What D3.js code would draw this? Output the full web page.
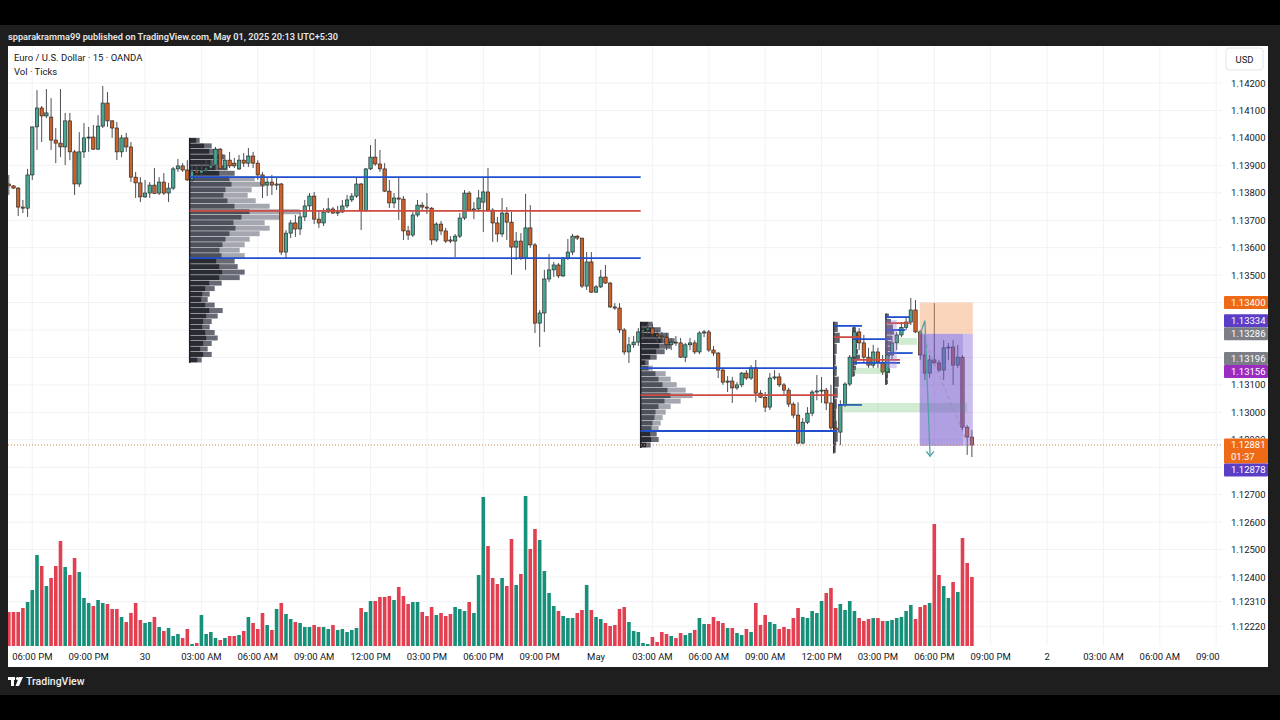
<!DOCTYPE html>
<html>
<head>
<meta charset="utf-8">
<script src="https://d3js.org/d3.v7.min.js"></script>
<style>
  body { margin: 0; background: #000; overflow: hidden; }
  text { font-family: Roboto, "Noto Sans", sans-serif; }
</style>
</head>
<body>
<script>
// EURUSD 15m candles, Apr 29 16:45 -> May 1 20:00 (UTC+5:30)
var opens = [
 1.13832,1.13825,1.13817,1.13748,1.13744,1.13865,1.14040,1.14109,1.14080,1.14076,
 1.13992,1.13981,1.13967,1.14062,1.13949,1.13832,1.13949,1.14000,1.14003,1.13959,
 1.14043,1.14127,1.14062,1.14036,1.13949,1.14000,1.13967,1.13857,1.13836,1.13785,
 1.13799,1.13828,1.13799,1.13839,1.13799,1.13817,1.13887,1.13898,1.13883,1.13847,
 1.13879,1.13872,1.13883,1.13890,1.13901,1.13959,1.13887,1.13919,1.13908,1.13887,
 1.13919,1.13908,1.13934,1.13908,1.13865,1.13828,1.13839,1.13828,1.13832,1.13584,
 1.13653,1.13690,1.13668,1.13712,1.13752,1.13788,1.13704,1.13690,1.13730,1.13741,
 1.13726,1.13730,1.13752,1.13774,1.13788,1.13832,1.13734,1.13887,1.13930,1.13905,
 1.13887,1.13806,1.13763,1.13781,1.13777,1.13661,1.13646,1.13719,1.13755,1.13748,
 1.13744,1.13628,1.13686,1.13661,1.13628,1.13624,1.13642,1.13708,1.13799,1.13737,
 1.13741,1.13766,1.13803,1.13737,1.13690,1.13650,1.13726,1.13693,1.13602,1.13624,
 1.13562,1.13672,1.13610,1.13325,1.13362,1.13486,1.13519,1.13537,1.13497,1.13562,
 1.13584,1.13642,1.13635,1.13460,1.13548,1.13438,1.13457,1.13493,1.13471,1.13384,
 1.13380,1.13300,1.13220,1.13246,1.13256,1.13293,1.13300,1.13307,1.13285,1.13278,
 1.13274,1.13246,1.13256,1.13253,1.13201,1.13246,1.13253,1.13220,1.13289,1.13293,
 1.13227,1.13216,1.13154,1.13110,1.13114,1.13089,1.13100,1.13143,1.13125,1.13162,
 1.13070,1.13055,1.13019,1.13125,1.13129,1.13100,1.13081,1.13030,1.12990,1.12888,
 1.12964,1.12997,1.13074,1.13078,1.13081,1.13034,1.12943,1.12928,1.13027,1.13103,
 1.13201,1.13293,1.13253,1.13201,1.13172,1.13220,1.13183,1.13147,1.13209,1.13253,
 1.13282,1.13310,1.13329,1.13373,1.13293,1.13209,1.13143,1.13191,1.13180,1.13154,
 1.13235,1.13238,1.13172,1.13201,1.12946,1.12910];
var highs = [
 1.13865,1.13828,1.13821,1.13774,1.13887,1.14040,1.14174,1.14116,1.14178,1.14145,
 1.14036,1.14178,1.14091,1.14091,1.13956,1.14021,1.14054,1.14040,1.14047,1.14083,
 1.14189,1.14167,1.14065,1.14058,1.14011,1.14018,1.13985,1.13876,1.13857,1.13847,
 1.13839,1.13890,1.13857,1.13872,1.13836,1.13894,1.13923,1.13908,1.13919,1.13901,
 1.13898,1.13901,1.13919,1.13919,1.13967,1.13963,1.13938,1.13949,1.13927,1.13938,
 1.13945,1.13963,1.13949,1.13919,1.13876,1.13857,1.13865,1.13857,1.13836,1.13664,
 1.13701,1.13719,1.13730,1.13774,1.13799,1.13803,1.13737,1.13744,1.13781,1.13748,
 1.13752,1.13774,1.13792,1.13799,1.13854,1.13836,1.13890,1.13974,1.13996,1.13956,
 1.13908,1.13847,1.13799,1.13854,1.13788,1.13679,1.13730,1.13774,1.13766,1.13799,
 1.13748,1.13693,1.13697,1.13672,1.13642,1.13650,1.13726,1.13810,1.13806,1.13766,
 1.13810,1.13857,1.13890,1.13744,1.13712,1.13781,1.13748,1.13730,1.13657,1.13653,
 1.13796,1.13755,1.13617,1.13373,1.13519,1.13577,1.13548,1.13544,1.13566,1.13632,
 1.13650,1.13646,1.13635,1.13584,1.13584,1.13464,1.13519,1.13537,1.13475,1.13398,
 1.13398,1.13307,1.13274,1.13278,1.13307,1.13318,1.13322,1.13322,1.13300,1.13293,
 1.13289,1.13271,1.13278,1.13271,1.13253,1.13271,1.13263,1.13296,1.13300,1.13300,
 1.13242,1.13220,1.13162,1.13132,1.13129,1.13110,1.13147,1.13154,1.13172,1.13191,
 1.13081,1.13074,1.13143,1.13154,1.13143,1.13107,1.13089,1.13037,1.13037,1.12979,
 1.13019,1.13081,1.13136,1.13129,1.13089,1.13100,1.13044,1.13044,1.13110,1.13209,
 1.13318,1.13307,1.13282,1.13235,1.13246,1.13235,1.13209,1.13263,1.13278,1.13293,
 1.13329,1.13344,1.13417,1.13409,1.13300,1.13282,1.13209,1.13398,1.13191,1.13263,
 1.13253,1.13263,1.13246,1.13209,1.12954,1.12935];
var lows = [
 1.13792,1.13814,1.13715,1.13726,1.13712,1.13847,1.13956,1.13985,1.14072,1.13956,
 1.13908,1.13930,1.13901,1.13919,1.13792,1.13821,1.13927,1.13949,1.13956,1.13956,
 1.14036,1.14040,1.14000,1.13919,1.13930,1.13949,1.13839,1.13781,1.13766,1.13781,
 1.13781,1.13797,1.13792,1.13792,1.13766,1.13810,1.13876,1.13876,1.13843,1.13836,
 1.13854,1.13861,1.13876,1.13883,1.13883,1.13883,1.13883,1.13890,1.13890,1.13883,
 1.13894,1.13894,1.13890,1.13847,1.13781,1.13788,1.13792,1.13810,1.13573,1.13562,
 1.13635,1.13639,1.13646,1.13697,1.13737,1.13686,1.13672,1.13679,1.13726,1.13723,
 1.13715,1.13726,1.13744,1.13766,1.13781,1.13664,1.13730,1.13883,1.13898,1.13876,
 1.13803,1.13744,1.13744,1.13701,1.13628,1.13628,1.13639,1.13712,1.13737,1.13723,
 1.13610,1.13621,1.13646,1.13617,1.13617,1.13566,1.13635,1.13701,1.13734,1.13704,
 1.13730,1.13657,1.13730,1.13621,1.13621,1.13639,1.13628,1.13501,1.13555,1.13555,
 1.13519,1.13599,1.13289,1.13238,1.13293,1.13475,1.13493,1.13489,1.13493,1.13555,
 1.13573,1.13628,1.13453,1.13446,1.13435,1.13435,1.13453,1.13468,1.13380,1.13373,
 1.13289,1.13209,1.13180,1.13235,1.13242,1.13263,1.13285,1.13271,1.13256,1.13253,
 1.13227,1.13227,1.13242,1.13198,1.13183,1.13227,1.13212,1.13212,1.13274,1.13220,
 1.13205,1.13125,1.13100,1.13074,1.13034,1.13081,1.13092,1.13118,1.13118,1.13037,
 1.13052,1.13001,1.13008,1.13118,1.13092,1.13063,1.13019,1.12979,1.12884,1.12884,
 1.12957,1.12986,1.13044,1.13034,1.13008,1.12935,1.12881,1.12881,1.13019,1.13096,
 1.13191,1.13227,1.13183,1.13162,1.13162,1.13162,1.13136,1.13125,1.13191,1.13227,
 1.13274,1.13300,1.13318,1.13289,1.13191,1.13118,1.13125,1.13172,1.13147,1.13118,
 1.13191,1.13100,1.13162,1.12935,1.12845,1.12837];
var closes = [
 1.13825,1.13817,1.13748,1.13744,1.13865,1.14040,1.14109,1.14080,1.14091,1.13992,
 1.13981,1.13967,1.14062,1.13949,1.13832,1.13949,1.14000,1.14003,1.13959,1.14043,
 1.14127,1.14062,1.14036,1.13949,1.14000,1.13967,1.13857,1.13836,1.13785,1.13799,
 1.13828,1.13797,1.13839,1.13799,1.13817,1.13887,1.13898,1.13883,1.13847,1.13879,
 1.13872,1.13883,1.13890,1.13901,1.13959,1.13887,1.13919,1.13898,1.13898,1.13919,
 1.13908,1.13934,1.13908,1.13865,1.13828,1.13839,1.13828,1.13832,1.13584,1.13653,
 1.13690,1.13668,1.13712,1.13752,1.13788,1.13704,1.13690,1.13730,1.13741,1.13726,
 1.13730,1.13752,1.13774,1.13788,1.13832,1.13734,1.13887,1.13930,1.13905,1.13887,
 1.13806,1.13763,1.13781,1.13777,1.13661,1.13646,1.13719,1.13755,1.13748,1.13744,
 1.13628,1.13686,1.13661,1.13624,1.13624,1.13642,1.13708,1.13799,1.13737,1.13741,
 1.13781,1.13803,1.13737,1.13690,1.13650,1.13726,1.13693,1.13602,1.13624,1.13562,
 1.13672,1.13610,1.13325,1.13362,1.13486,1.13519,1.13537,1.13497,1.13562,1.13584,
 1.13642,1.13635,1.13460,1.13548,1.13438,1.13457,1.13493,1.13471,1.13384,1.13380,
 1.13300,1.13220,1.13246,1.13256,1.13293,1.13300,1.13307,1.13285,1.13278,1.13274,
 1.13246,1.13256,1.13253,1.13201,1.13246,1.13253,1.13220,1.13289,1.13293,1.13227,
 1.13216,1.13154,1.13110,1.13114,1.13089,1.13100,1.13143,1.13125,1.13162,1.13070,
 1.13055,1.13019,1.13125,1.13129,1.13100,1.13081,1.13030,1.12990,1.12888,1.12964,
 1.12997,1.13074,1.13078,1.13081,1.13034,1.12943,1.12935,1.13027,1.13103,1.13201,
 1.13293,1.13253,1.13201,1.13172,1.13220,1.13183,1.13147,1.13209,1.13253,1.13282,
 1.13310,1.13329,1.13373,1.13293,1.13209,1.13143,1.13191,1.13180,1.13154,1.13235,
 1.13238,1.13172,1.13201,1.12946,1.12910,1.12881];
var volumes = [
 34,34,34,38,44,56,91,80,60,68, 80,105,79,71,88,74,48,43,40,46,
 43,42,37,37,29,24,33,43,26,23, 24,29,19,15,18,10,12,8,17,2,
 3,31,12,14,8,6,8,10,10,11, 15,29,23,17,33,21,16,37,43,32,
 27,24,23,19,19,21,19,19,17,21, 16,17,14,16,18,38,34,45,45,49,
 49,50,46,59,50,42,44,44,34,30, 39,31,33,30,32,39,37,35,44,33,
 71,149,100,68,62,68,60,107,61,72, 150,97,117,106,75,53,40,35,30,28,
 28,33,36,61,36,29,27,23,20,21, 37,39,24,15,14,3,2,9,4,14,
 12,10,8,13,11,13,16,28,22,22, 29,25,23,18,18,13,11,17,14,43,
 21,31,24,22,17,19,17,28,38,29, 28,35,33,45,53,58,38,42,36,45,
 35,28,25,27,28,28,25,25,26,28, 29,35,41,27,39,41,43,122,71,60,
 48,64,54,108,83,69];

var timeLabels = ["06:00 PM","09:00 PM","30","03:00 AM","06:00 AM","09:00 AM","12:00 PM","03:00 PM",
  "06:00 PM","09:00 PM","May","03:00 AM","06:00 AM","09:00 AM","12:00 PM","03:00 PM","06:00 PM",
  "09:00 PM","2","03:00 AM","06:00 AM","09:00 AM"];
var firstLabelBar = 5, barsPerLabel = 12;
var priceTicks = [1.142,1.141,1.140,1.139,1.138,1.137,1.136,1.135,1.134,1.133,1.132,1.131,1.130,
  1.129,1.128,1.127,1.126,1.125,1.124,1.1231,1.1222];

// session volume profile 1 (Apr 30)
var vp1Start = 38.5, vp1End = 134.5;
var vp1Levels = [1.1400,1.1398,1.1396,1.1394,1.1392,1.1390,1.1388,1.1386,1.1384,1.1382,1.1380,1.1378,
  1.1376,1.1374,1.1372,1.1370,1.1368,1.1366,1.1364,1.1362,1.1360,1.1358,1.1356,1.1354,1.1352,1.1350,
  1.1348,1.1346,1.1344,1.1342,1.1340,1.1338,1.1336,1.1334,1.1332,1.1330,1.1328,1.1326,1.1324,1.1322,1.1320];
var vp1Total = [10,22,28,35,32,38,45,65,75,62,58,66,80,110,90,75,80,70,60,55,50,55,45,48,55,50,32,25,20,18,25,33,28,22,20,25,28,22,18,22,12];
var vp1Dark = [7,15,20,24,22,26,30,40,42,36,34,38,45,60,52,44,46,40,36,33,30,32,27,30,33,30,20,16,13,12,16,20,17,14,13,16,17,14,11,14,8];
var vp1Vah = 1.13857, vp1Poc = 1.13734, vp1Val = 1.13562;

// session volume profile 2 (May 1)
var vp2Start = 134.5, vp2End = 176.3;
var vp2Levels = [1.1333,1.1331,1.1329,1.1327,1.1325,1.1323,1.1321,1.1319,1.1317,1.1315,1.1313,1.1311,
  1.1309,1.1307,1.1305,1.1303,1.1301,1.1299,1.1297,1.1295,1.1293,1.1291,1.1289];
var vp2Total = [12,20,28,34,30,24,16,8,12,25,30,36,45,52,40,30,25,22,20,18,16,18,10];
var vp2Dark = [8,13,18,22,19,16,10,5,8,15,18,22,27,30,24,18,15,14,12,11,10,11,6];
var vp2Vah = 1.13161, vp2Poc = 1.13063, vp2Val = 1.12932;

// small anchored profiles
var miniProfiles = [
  {start: 175.6, levels: [1.1333,1.1329,1.1325,1.1321,1.1317,1.1313,1.1309,1.1305,1.1301,1.1297,1.1293,1.1289],
   vols: [4,6,3,2,3,5,4,3,2,3,4,2], step: 0.0004,
   lines: [{p: 1.13315, a: 175.6, b: 181.6, c: "blue"}, {p: 1.13274, a: 175.6, b: 181.2, c: "red"}, {p: 1.13027, a: 176.5, b: 181.6, c: "blue"}]},
  {start: 179.7, levels: [1.1331,1.1329,1.1327,1.1325,1.1323,1.1321,1.1319,1.1317,1.1315],
   vols: [3,5,6,4,5,7,4,3,2], step: 0.0002,
   lines: [{p: 1.13267, a: 179.7, b: 187.6, c: "blue"}, {p: 1.13191, a: 179.7, b: 189.7, c: "red"}, {p: 1.13180, a: 179.7, b: 189.7, c: "blue"}]},
  {start: 186.7, levels: [1.1336,1.1334,1.1332,1.1330,1.1328,1.1326,1.1324,1.1322,1.1320,1.1318,1.1316,1.1314,1.1312],
   vols: [3,5,7,8,6,5,6,4,3,3,4,2,2], step: 0.0002,
   lines: [{p: 1.13347, a: 186.7, b: 191.8, c: "blue"}, {p: 1.13325, a: 186.7, b: 191.8, c: "red"}, {p: 1.13300, a: 186.7, b: 190.8, c: "blue"}, {p: 1.13216, a: 187.2, b: 192.4, c: "blue"}]}
];

// zones (fair value gaps / boxes)
var greenZones = [{a: 177.6, b: 204.0, top: 1.13034, bot: 1.13001}, {a: 179.7, b: 186.9, top: 1.13162, bot: 1.13140}, {a: 189.3, b: 193.3, top: 1.13271, bot: 1.13246}];
var purpleZones = [{a: 186.5, b: 189.0, top: 1.13336, bot: 1.13161}];

// short position tool
var posStart = 193.9, posEnd = 205.2, posSplit = 203.1;
var posTarget = 1.13400, posEntry = 1.13286, posStop = 1.12878;

var priceLabels = [
  {value: 1.13400, text: "1.13400", color: "#ef6a17"},
  {value: 1.13334, text: "1.13334", color: "#5a3ec6"},
  {value: 1.13286, text: "1.13286", color: "#7b7e87"},
  {value: 1.13196, text: "1.13196", color: "#7b7e87"},
  {value: 1.13156, text: "1.13156", color: "#9a2dc0"},
  {value: 1.12881, text: "1.12881", sub: "01:37", color: "#ef6a17"},
  {value: 1.12878, text: "1.12878", color: "#5a3ec6"}
];
var lastPrice = 1.12881;

var W = 1280, H = 720;
var svg = d3.select('body').append('svg').attr('width', W).attr('height', H).style('display', 'block');

svg.append('rect').attr('width', W).attr('height', H).attr('fill', '#000');
svg.append('rect').attr('x', 0).attr('y', 25).attr('width', W).attr('height', 670).attr('fill', '#1e1e1e');
svg.append('rect').attr('x', 8).attr('y', 46).attr('width', 1260).attr('height', 621).attr('fill', '#fff');

svg.append('text').attr('x', 8).attr('y', 40).attr('fill', '#e6e6e6')
  .style('font-size', '9.2px').style('font-weight', 600)
  .text('spparakramma99 published on TradingView.com, May 01, 2025 20:13 UTC+5:30');

var x = d3.scaleLinear().domain([0, 205]).range([8.8, 8.8 + 205 * 4.698]);
var y = d3.scaleLinear().domain([1.1222, 1.142]).range([626.4, 83]);
var yv = d3.scaleLinear().domain([0, 150]).range([646, 496]);
var vw = d3.scaleLinear().domain([0, 110]).range([0, 110]);

var plotL = 8, plotR = 1222, plotT = 46, plotB = 646;
svg.append('clipPath').attr('id', 'plot').append('rect')
  .attr('x', plotL).attr('y', plotT).attr('width', plotR - plotL).attr('height', plotB - plotT);
svg.append('clipPath').attr('id', 'timeaxis').append('rect')
  .attr('x', plotL).attr('y', 646).attr('width', plotR - plotL).attr('height', 21);

var plot = svg.append('g').attr('clip-path', 'url(#plot)');

// grid
var tickBars = timeLabels.map(function (d, i) { return firstLabelBar + i * barsPerLabel; });
plot.selectAll('line.vg').data(tickBars).enter().append('line')
  .attr('x1', function (d) { return x(d); }).attr('x2', function (d) { return x(d); })
  .attr('y1', plotT).attr('y2', plotB).attr('stroke', '#f0f2f6').attr('stroke-width', 1);
plot.selectAll('line.hg').data(priceTicks).enter().append('line')
  .attr('x1', plotL).attr('x2', plotR)
  .attr('y1', function (d) { return y(d); }).attr('y2', function (d) { return y(d); })
  .attr('stroke', '#f0f2f6').attr('stroke-width', 1);

// volume bars
plot.selectAll('rect.vol').data(volumes).enter().append('rect')
  .attr('x', function (d, i) { return x(i) - 1.8; })
  .attr('width', 3.6)
  .attr('y', function (d) { return yv(d); })
  .attr('height', function (d) { return yv(0) - yv(d); })
  .attr('fill', function (d, i) { return closes[i] >= opens[i] ? '#17907a' : '#e23f50'; });

// volume profiles
function drawProfile(start, levels, totals, darks, step, vah, val) {
  var g = plot.append('g');
  var x0 = x(start);
  levels.forEach(function (p, i) {
    var yt = y(p), h = y(p - step) - y(p) - 0.5;
    var inVa = p <= vah + step / 2 && p - step >= val - step / 2;
    g.append('rect').attr('x', x0 + vw(darks[i])).attr('y', yt).attr('height', h)
      .attr('width', Math.max(0, vw(totals[i]) - vw(darks[i])))
      .attr('fill', inVa ? '#9a9da6' : '#565a65').attr('opacity', 0.9);
    g.append('rect').attr('x', x0).attr('y', yt).attr('height', h)
      .attr('width', vw(darks[i]))
      .attr('fill', inVa ? '#3e424d' : '#171a22').attr('opacity', 0.92);
  });
  g.append('line').attr('x1', x0).attr('x2', x0)
    .attr('y1', y(levels[0])).attr('y2', y(levels[levels.length - 1] - step))
    .attr('stroke', '#1d2029').attr('stroke-width', 1.5);
}
drawProfile(vp1Start, vp1Levels, vp1Total, vp1Dark, 0.0002, vp1Vah, vp1Val);
drawProfile(vp2Start, vp2Levels, vp2Total, vp2Dark, 0.0002, vp2Vah, vp2Val);

miniProfiles.forEach(function (mp) {
  var x0 = x(mp.start);
  plot.append('line').attr('x1', x0).attr('x2', x0)
    .attr('y1', y(mp.levels[0])).attr('y2', y(mp.levels[mp.levels.length - 1] - mp.step))
    .attr('stroke', '#2a2d36').attr('stroke-width', 1.5);
  mp.levels.forEach(function (p, i) {
    plot.append('rect').attr('x', x0).attr('y', y(p))
      .attr('width', mp.vols[i]).attr('height', y(p - mp.step) - y(p) - 0.8)
      .attr('fill', '#3a3d47').attr('opacity', 0.8);
  });
});

// candles
var candles = plot.selectAll('g.candle').data(closes).enter().append('g');
candles.append('line')
  .attr('x1', function (d, i) { return x(i); }).attr('x2', function (d, i) { return x(i); })
  .attr('y1', function (d, i) { return y(highs[i]); }).attr('y2', function (d, i) { return y(lows[i]); })
  .attr('stroke', '#4d4f55').attr('stroke-width', 1);
candles.append('rect')
  .attr('x', function (d, i) { return x(i) - 1.7; })
  .attr('width', 3.4)
  .attr('y', function (d, i) { return y(Math.max(opens[i], closes[i])); })
  .attr('height', function (d, i) { return Math.max(1, Math.abs(y(opens[i]) - y(closes[i]))); })
  .attr('fill', function (d, i) { return closes[i] >= opens[i] ? '#4ba391' : '#c9622b'; })
  .attr('stroke', '#1b1b1b').attr('stroke-width', 0.6);

// value area lines
var blue = '#1f4fcf', red = '#cf4a40';
function hline(p, a, b, color) {
  plot.append('line').attr('x1', x(a)).attr('x2', x(b)).attr('y1', y(p)).attr('y2', y(p))
    .attr('stroke', color).attr('stroke-width', 1.8);
}
hline(vp1Vah, vp1Start, vp1End, blue);
hline(vp1Poc, vp1Start, vp1End, red);
hline(vp1Val, vp1Start, vp1End, blue);
hline(vp2Vah, vp2Start, vp2End, blue);
hline(vp2Poc, vp2Start, vp2End, red);
hline(vp2Val, vp2Start, vp2End, blue);
miniProfiles.forEach(function (mp) {
  mp.lines.forEach(function (l) { hline(l.p, l.a, l.b, l.c === 'blue' ? blue : red); });
});

// zones
greenZones.forEach(function (z) {
  plot.append('rect').attr('x', x(z.a)).attr('width', x(z.b) - x(z.a))
    .attr('y', y(z.top)).attr('height', y(z.bot) - y(z.top))
    .attr('fill', '#4caf50').attr('opacity', 0.25);
});
purpleZones.forEach(function (z) {
  plot.append('rect').attr('x', x(z.a)).attr('width', x(z.b) - x(z.a))
    .attr('y', y(z.top)).attr('height', y(z.bot) - y(z.top))
    .attr('fill', '#9575cd').attr('opacity', 0.35);
});

// position tool
plot.append('rect').attr('x', x(posStart)).attr('width', x(posEnd) - x(posStart))
  .attr('y', y(posTarget)).attr('height', y(posEntry) - y(posTarget))
  .attr('fill', '#f59a5e').attr('opacity', 0.42);
plot.append('rect').attr('x', x(posStart)).attr('width', x(posEnd) - x(posStart))
  .attr('y', y(posEntry)).attr('height', y(posStop) - y(posEntry))
  .attr('fill', '#8a6ad6').attr('opacity', 0.45);
plot.append('rect').attr('x', x(posStart)).attr('width', x(posSplit) - x(posStart))
  .attr('y', y(posEntry)).attr('height', y(posStop) - y(posEntry))
  .attr('fill', '#6246c0').attr('opacity', 0.25);

// projection lines
plot.append('path')
  .attr('d', d3.line()([[x(194.0), y(1.13286)], [x(195.0), y(1.13334)], [x(196.1), y(1.12840)]]))
  .attr('fill', 'none').attr('stroke', '#4ea3a5').attr('stroke-width', 1.3);
plot.append('path')
  .attr('d', d3.line()([[x(195.3), y(1.12858)], [x(196.1), y(1.12840)], [x(196.9), y(1.12858)]]))
  .attr('fill', 'none').attr('stroke', '#4ea3a5').attr('stroke-width', 1.3);
plot.append('line').attr('x1', x(195.3)).attr('y1', y(1.13250)).attr('x2', x(204.0)).attr('y2', y(1.12890))
  .attr('stroke', '#9a8fb8').attr('stroke-width', 1).attr('stroke-dasharray', '4,3');

// last price line
plot.append('line').attr('x1', plotL).attr('x2', plotR).attr('y1', y(lastPrice)).attr('y2', y(lastPrice))
  .attr('stroke', '#c98a4e').attr('stroke-width', 1).attr('stroke-dasharray', '1,2');

// legend
svg.append('text').attr('x', 14).attr('y', 61).attr('fill', '#131722').style('font-size', '9.5px')
  .text('Euro / U.S. Dollar \u00b7 15 \u00b7 OANDA');
svg.append('text').attr('x', 14).attr('y', 75).attr('fill', '#131722').style('font-size', '9.5px')
  .text('Vol \u00b7 Ticks');

// time axis
svg.append('g').attr('clip-path', 'url(#timeaxis)').selectAll('text').data(timeLabels).enter().append('text')
  .attr('x', function (d, i) { return x(tickBars[i]); }).attr('y', 660)
  .attr('text-anchor', 'middle').attr('fill', '#131722').style('font-size', '9.5px')
  .text(function (d) { return d; });

// price label boxes (pushed down when they overlap)
var prevBottom = -1e9;
var boxes = priceLabels.map(function (l) {
  var h = l.sub ? 25 : 13;
  var top = y(l.value) - 6.5;
  if (top < prevBottom) top = prevBottom;
  prevBottom = top + h;
  return {l: l, top: top, h: h};
});

// price axis: tick labels mostly hidden by a label box are left out,
// one that only peeks above a box is clipped at the box top
var fmt = d3.format('.5f');
priceTicks.forEach(function (p, k) {
  var ty = y(p), t0 = ty - 4, t1 = ty + 4;
  var hidden = false, clipTop = null;
  boxes.forEach(function (b) {
    var ov = Math.min(t1, b.top + b.h) - Math.max(t0, b.top);
    if (ov <= 0) return;
    if (t0 >= b.top - 0.5) hidden = true;      // box covers the top of the text
    else clipTop = b.top;                        // only the bottom is covered
  });
  if (hidden) return;
  var t = svg.append('text').attr('x', 1231).attr('y', ty + 3.5)
    .attr('fill', '#131722').style('font-size', '9.5px').text(fmt(p));
  if (clipTop !== null) {
    svg.append('clipPath').attr('id', 'peek' + k).append('rect')
      .attr('x', 1222).attr('y', t0 - 2).attr('width', 46).attr('height', clipTop - t0 + 2);
    t.attr('clip-path', 'url(#peek' + k + ')');
  }
});

svg.append('rect').attr('x', 1226).attr('y', 48).attr('width', 37).attr('height', 22).attr('rx', 3)
  .attr('fill', '#fff').attr('stroke', '#e3e5ea');
svg.append('text').attr('x', 1244.5).attr('y', 62.5).attr('text-anchor', 'middle')
  .attr('fill', '#131722').style('font-size', '9.5px').text('USD');

boxes.forEach(function (b) {
  svg.append('rect').attr('x', 1224).attr('y', b.top).attr('width', 44).attr('height', b.h)
    .attr('fill', b.l.color).attr('rx', 1);
  svg.append('text').attr('x', 1231).attr('y', b.top + 10).attr('fill', '#fff')
    .style('font-size', '9.5px').text(b.l.text);
  if (b.l.sub) {
    svg.append('text').attr('x', 1231).attr('y', b.top + 22).attr('fill', '#fff')
      .style('font-size', '9.5px').text(b.l.sub);
  }
});

// footer logo
var logo = svg.append('g').attr('fill', '#fff');
logo.append('rect').attr('x', 8).attr('y', 677).attr('width', 7).attr('height', 3);
logo.append('rect').attr('x', 11).attr('y', 677).attr('width', 3).attr('height', 9);
logo.append('circle').attr('cx', 17.5).attr('cy', 678.5).attr('r', 1.6);
logo.append('path').attr('d', 'M19,677 L23,677 L19,686 L15.5,686 Z');
svg.append('text').attr('x', 26).attr('y', 685).attr('fill', '#f0f0f0')
  .style('font-size', '10.5px').style('font-weight', 500).text('TradingView');
</script>
</body>
</html>
